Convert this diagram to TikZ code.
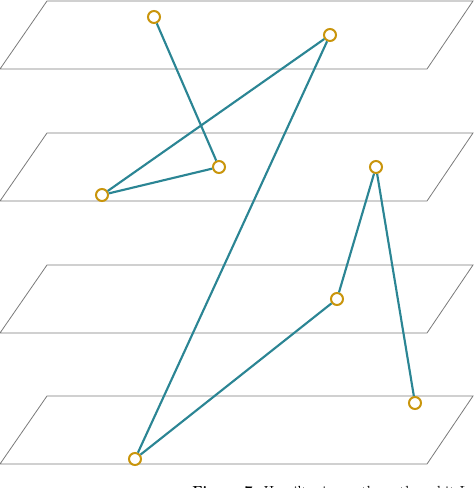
\documentclass[tikz,border=0pt]{standalone}
\usepackage{tikz}
\usetikzlibrary{positioning}
\definecolor{pathteal}{HTML}{2B8594}
\definecolor{vertexgold}{HTML}{C9950C}
\definecolor{planegray}{HTML}{7A7A7A}

\begin{document}
\begin{tikzpicture}[x=0.75pt, y=-0.75pt,
    plane style/.style={draw=planegray, line width=0.6pt},
    vertex style/.style={circle, draw=vertexgold, fill=white, line width=1.5pt, minimum size=9pt, inner sep=0pt},
    edge style/.style={draw=pathteal, line width=1.6pt}
]
\useasboundingbox (0,0) rectangle (474,488);
\clip (0,0) rectangle (474,488);
% the four layers
\foreach \y in {69,201,333,464}
    \draw[plane style] (0,\y) -- (427,\y) -- (473,\y-68) -- (47,\y-68) -- cycle;
% vertices
\node[vertex style] (v1) at (154,17) {};
\node[vertex style] (v2) at (330,35) {};
\node[vertex style] (v3) at (219,167) {};
\node[vertex style] (v4) at (102,195) {};
\node[vertex style] (v5) at (376,167) {};
\node[vertex style] (v6) at (337,299) {};
\node[vertex style] (v7) at (135,459) {};
\node[vertex style] (v8) at (415,403) {};
% the path
\draw[edge style] (v1) -- (v3) -- (v4) -- (v2) -- (v7) -- (v6) -- (v5) -- (v8);
% caption (cut off)
\node[anchor=base west, inner sep=0pt, font=\fontsize{11}{13}\selectfont] (caption) at (192,496) {\textbf{Figure 7.} Hamiltonian path on the orbit L};
\end{tikzpicture}
\end{document}
